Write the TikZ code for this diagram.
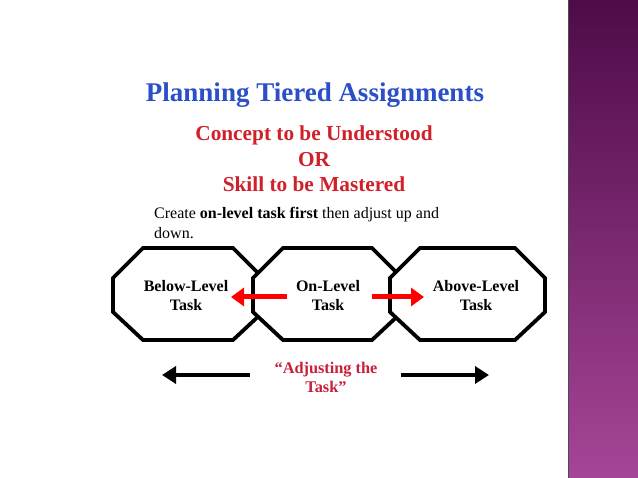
\documentclass[tikz,border=0pt]{standalone}
\usepackage{fontspec}
\setmainfont{Liberation Serif}
\usetikzlibrary{arrows.meta}
\definecolor{ttl}{HTML}{2A4FC8}
\definecolor{rd}{HTML}{D0202A}
\definecolor{adj}{HTML}{C8203A}
\definecolor{ptop}{HTML}{4E0B48}
\definecolor{pbot}{HTML}{A64597}
\tikzset{
 oct/.style={draw=black,line width=3.8pt,fill=white,line join=miter},
 lbl/.style={font=\bfseries\fontsize{16}{19}\selectfont,align=center},
 redarr/.style={draw=red,line width=5pt,-{Triangle[length=13pt,width=18pt]}},
 blkarr/.style={draw=black,line width=4.5pt,-{Triangle[length=14pt,width=17pt]}}
}
\newcommand{\octa}[3]{% x1 x2 name
 \draw[oct] (#1+30,248) -- (#2-30,248) -- (#2,278) -- (#2,312) -- (#2-30,340) -- (#1+30,340) -- (#1,312) -- (#1,278) -- cycle;
 \coordinate (#3) at ({(#1+#2)/2},294);}
\begin{document}
\begin{tikzpicture}[x=1pt,y=-1pt]
\useasboundingbox (0,0) rectangle (638,478);
\fill[white] (0,0) rectangle (638,478);
\shade[top color=ptop,bottom color=pbot] (568,0) rectangle (638,478);
\draw[black!70,line width=1pt] (568.5,0) -- (568.5,478);
\node[font=\bfseries\fontsize{27}{29}\selectfont,text=ttl] (title) at (315,95) {Planning Tiered Assignments};
\node[font=\bfseries\fontsize{21.3}{25.5}\selectfont,text=rd,align=center] (concept) at (314,159) {Concept to be Understood\\OR\\Skill to be Mastered};
\node[font=\fontsize{16}{20}\selectfont,align=left,anchor=north west,inner sep=0pt] (create) at (154,207) {Create \textbf{on-level task first} then adjust up and\\down.};
\octa{113}{263}{o1}
\octa{253}{402}{o2}
\octa{390}{545}{o3}
\node[lbl] (t1) at (186,296) {Below-Level\\Task};
\node[lbl] (t2) at (328,296) {On-Level\\Task};
\node[lbl] (t3) at (476,296) {Above-Level\\Task};
\coordinate (ra1) at (287,297); \coordinate (ra2) at (231,297);
\coordinate (rb1) at (372,297); \coordinate (rb2) at (424,297);
\draw[redarr] (ra1) -- (ra2);
\draw[redarr] (rb1) -- (rb2);
\node[font=\bfseries\fontsize{16.3}{19}\selectfont,text=adj,align=center] (adj) at (326,377) {``Adjusting the\\Task''};
\coordinate (ba1) at (250,375); \coordinate (ba2) at (162,375);
\coordinate (bb1) at (401,375); \coordinate (bb2) at (489,375);
\draw[blkarr] (ba1) -- (ba2);
\draw[blkarr] (bb1) -- (bb2);
\end{tikzpicture}
\end{document}
